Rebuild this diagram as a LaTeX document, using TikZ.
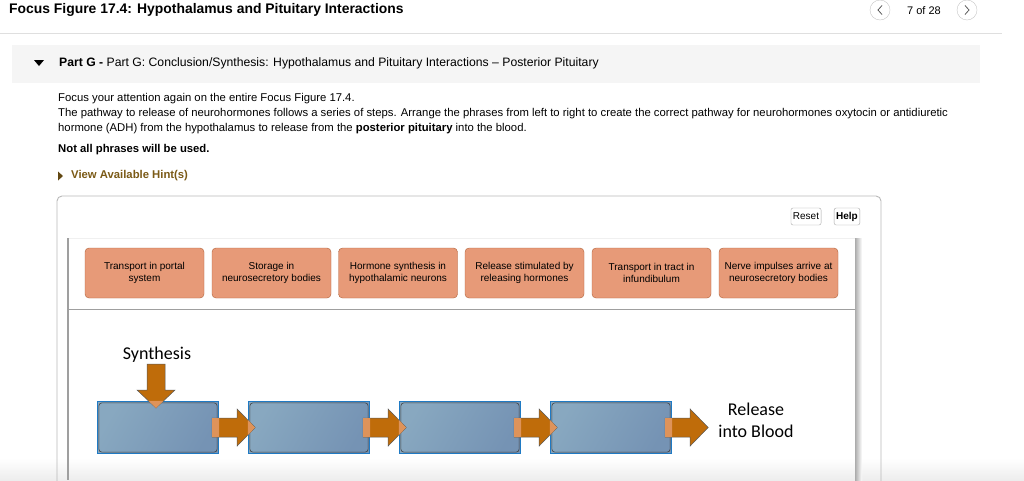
\documentclass[tikz,border=0pt]{standalone}
\usepackage{fontspec}
\setmainfont{Liberation Sans}
\newfontfamily\calibri{Carlito}
\usetikzlibrary{shapes.geometric}
\definecolor{salmon}{HTML}{E79A78}
\definecolor{salmonedge}{HTML}{B0623A}
\definecolor{arrowfill}{HTML}{BF6C0A}
\definecolor{arrowlight}{HTML}{DE935A}
\definecolor{boxblueA}{HTML}{88A8C0}
\definecolor{boxblueB}{HTML}{7593B4}
\definecolor{boxedge}{HTML}{1F7AC4}
\definecolor{hintbrown}{HTML}{7B5A16}
\definecolor{panelgray}{HTML}{F5F5F5}
\tikzset{
  txt/.style={anchor=west,inner sep=0pt,font=\fontsize{11.3}{13}\selectfont},
  phrase/.style={draw=salmonedge,fill=salmon,rounded corners=4pt,minimum width=119pt,minimum height=50pt,
    align=center,inner sep=1pt,font=\fontsize{10}{12.5}\selectfont},
  slot/.style={draw=boxedge,line width=1.3pt,shading=axis,left color=boxblueA,right color=boxblueB,shading angle=60,
    minimum width=121pt,minimum height=52pt,inner sep=0pt},
  btn/.style={draw=gray!70,rounded corners=2pt,minimum height=17pt,inner sep=2pt,font=\fontsize{10}{11}\selectfont},
  blockarrow/.style={fill=arrowfill,draw=black!65,line width=0.5pt},
  calib/.style={font=\calibri\fontsize{18}{22}\selectfont,align=center,inner sep=0pt}
}
\begin{document}
\begin{tikzpicture}[x=1pt,y=-1pt]
\useasboundingbox (0,0) rectangle (1024,480);
\fill[white] (0,0) rectangle (1024,480);
% bottom fade
\shade[top color=white,bottom color=gray!14] (0,458) rectangle (1024,480);

% header
\node[anchor=west,inner sep=0pt,font=\bfseries\fontsize{13.9}{16}\selectfont] (title) at (9,10) {Focus Figure 17.4: Hypothalamus and Pituitary Interactions};
\node[circle,draw=gray!45,minimum size=20pt,inner sep=0pt] (prev) at (880,10) {};
\draw[gray!70!black,line width=0.8pt] (882,5.5) -- (878,10) -- (882,14.5);
\node[inner sep=0pt,font=\fontsize{11}{12}\selectfont] (page) at (924,10.5) {7 of 28};
\node[circle,draw=gray!45,minimum size=20pt,inner sep=0pt] (next) at (967,10) {};
\draw[gray!70!black,line width=0.8pt] (965,5.5) -- (969,10) -- (965,14.5);
\draw[gray!25,line width=0.8pt] (0,33) -- (1002,33);

% part panel
\fill[panelgray] (12,45) rectangle (980,83);
\fill[black] (34,60) -- (44,60) -- (39,66) -- cycle;
\node[txt,font=\fontsize{12.2}{14}\selectfont] (part) at (59,63.5) {\textbf{Part G -} Part G: Conclusion/Synthesis: Hypothalamus and Pituitary Interactions -- Posterior Pituitary};

% instructions
\node[txt] (l1) at (58,99) {Focus your attention again on the entire Focus Figure 17.4.};
\node[txt] (l2) at (58,114) {The pathway to release of neurohormones follows a series of steps. Arrange the phrases from left to right to create the correct pathway for neurohormones oxytocin or antidiuretic};
\node[txt] (l3) at (58,128.5) {hormone (ADH) from the hypothalamus to release from the \textbf{posterior pituitary} into the blood.};
\node[txt,font=\bfseries\fontsize{11.3}{13}\selectfont] (l4) at (58,150) {Not all phrases will be used.};
\fill[hintbrown!80!black] (58,171.5) -- (63,176) -- (58,180.5) -- cycle;
\node[txt,font=\bfseries\fontsize{11.3}{13}\selectfont,text=hintbrown] (hint) at (71,176) {View Available Hint(s)};

% outer widget box
\draw[gray!55,line width=0.9pt,rounded corners=5pt] (57,500) -- (57,196) -- (881,196) -- (881,500);
\node[btn] (reset) at (806,216.5) {Reset};
\node[btn,font=\bfseries\fontsize{10}{11}\selectfont] (help) at (847,216.5) {Help};

% inner panel
\draw[gray!12,line width=0.6pt] (68,238) -- (855,238);
\shade[left color=gray!65,right color=white] (855,238) rectangle (862,480);
\draw[gray!75,line width=1.3pt] (68,238) -- (68,480);
\draw[gray!75,line width=0.9pt] (68,309) -- (855,309);

% phrases
\node[phrase] (p1) at (144.5,273) {Transport in portal\\system};
\node[phrase] (p2) at (271.5,273) {Storage in\\neurosecretory bodies};
\node[phrase] (p3) at (398,273) {Hormone synthesis in\\hypothalamic neurons};
\node[phrase] (p4) at (524.5,273) {Release stimulated by\\releasing hormones};
\node[phrase] (p5) at (651.5,273) {Transport in tract in\\infundibulum};
\node[phrase] (p6) at (778.5,273) {Nerve impulses arrive at\\neurosecretory bodies};

% slots
\node[slot] (s1) at (158,427.5) {};
\node[slot] (s2) at (309,427.5) {};
\node[slot] (s3) at (460,427.5) {};
\node[slot] (s4) at (611,427.5) {};
\foreach \s in {s1,s2,s3,s4}{
  \draw[black!75,line width=0.6pt,rounded corners=3pt] ([xshift=2pt,yshift=-2pt]\s.north west) rectangle ([xshift=-2pt,yshift=2pt]\s.south east);
}

\node[calib] (syn) at (157,355) {Synthesis};
\node[calib] (rel) at (756,420) {Release\\into Blood};

% arrow paths
\def\downarrow{(147,364) -- (165,364) -- (165,390) -- (175,390) -- (156,408) -- (137,390) -- (147,390) -- cycle}
\draw[blockarrow] \downarrow;
\foreach \s in {s1,s2,s3,s4}{
  \draw[blockarrow] ([xshift=-7pt]\s.east) ++(0,-9.5) -- ++(25,0) -- ++(0,-9) -- ++(18,18.5) -- ++(-18,18.5) -- ++(0,-9) -- ++(-25,0) -- cycle;
}
% lighter overlaps where arrows lie on slots
\begin{scope}
\clip (s1.north west) rectangle (s1.south east) (s2.north west) rectangle (s2.south east)
      (s3.north west) rectangle (s3.south east) (s4.north west) rectangle (s4.south east);
\fill[arrowlight] \downarrow;
\foreach \s in {s1,s2,s3,s4}{
  \fill[arrowlight] ([xshift=-7pt]\s.east) ++(0,-9.5) -- ++(25,0) -- ++(0,-9) -- ++(18,18.5) -- ++(-18,18.5) -- ++(0,-9) -- ++(-25,0) -- cycle;
}
\end{scope}
\end{tikzpicture}
\end{document}
